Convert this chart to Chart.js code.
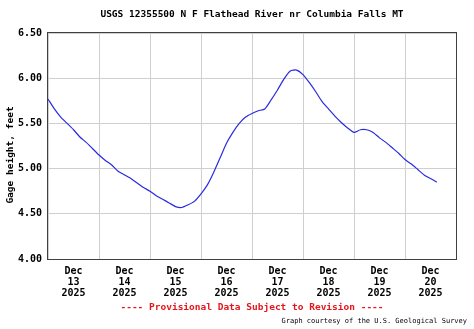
<!DOCTYPE html>
<html>
<head>
<meta charset="utf-8">
<title>USGS 12355500 N F Flathead River nr Columbia Falls MT</title>
<script src="https://cdn.jsdelivr.net/npm/chart.js@4/dist/chart.umd.min.js"></script>
<style>
  html, body { margin: 0; padding: 0; background: #fff; }
  canvas { display: block; }
</style>
</head>
<body>
<canvas id="gage" width="474" height="329"></canvas>
<script>
// Gage height readings, every 3 hours starting Dec 13 2025 00:00
const hoursSinceStart = [
  0, 3, 6, 9, 12, 15, 18, 21,
  24, 27, 30, 33, 36, 39, 42, 45,
  48, 51, 54, 57, 60, 63, 66, 69,
  72, 75, 78, 81, 84, 87, 90, 93,
  96, 99, 102, 105, 108, 111, 114, 117,
  120, 123, 126, 129, 132, 135, 138, 141,
  144, 147, 150, 153, 156, 159, 162, 165,
  168, 171, 174, 177, 180, 183
];
const gageHeight = [
  5.77, 5.66, 5.57, 5.50, 5.43, 5.35, 5.29, 5.22,
  5.15, 5.09, 5.04, 4.97, 4.93, 4.89, 4.84, 4.79,
  4.75, 4.70, 4.66, 4.62, 4.58, 4.57, 4.60, 4.64,
  4.72, 4.82, 4.96, 5.12, 5.28, 5.40, 5.50, 5.57,
  5.61, 5.64, 5.66, 5.76, 5.87, 5.99, 6.08, 6.09,
  6.04, 5.95, 5.85, 5.74, 5.66, 5.58, 5.51, 5.45,
  5.40, 5.43, 5.43, 5.40, 5.34, 5.29, 5.23, 5.17,
  5.10, 5.05, 4.99, 4.93, 4.89, 4.85
];
const dayLabels = ["13", "14", "15", "16", "17", "18", "19", "20"];
const yTicks = [4.0, 4.5, 5.0, 5.5, 6.0, 6.5];

const titleText = "USGS 12355500 N F Flathead River nr Columbia Falls MT";
const yAxisText = "Gage height, feet";
const noticeText = "---- Provisional Data Subject to Revision ----";
const creditText = "Graph courtesy of the U.S. Geological Survey";

const MONO = "'DejaVu Sans Mono', 'Liberation Mono', monospace";

// title, axis name, notices and the plot frame
const decorations = {
  id: "decorations",
  afterDraw(chart) {
    const { ctx, chartArea: a } = chart;
    const midX = (a.left + a.right) / 2;
    ctx.save();
    ctx.textAlign = "center";
    ctx.textBaseline = "middle";

    ctx.fillStyle = "#000";
    ctx.font = "bold 9.5px " + MONO;
    ctx.fillText(titleText, midX, 15);

    ctx.save();
    ctx.translate(11, 155);
    ctx.rotate(-Math.PI / 2);
    ctx.fillText(yAxisText, 0, 0);
    ctx.restore();

    ctx.fillStyle = "#e8141c";
    ctx.font = "bold 9.5px " + MONO;
    ctx.fillText(noticeText, midX, 308);

    ctx.fillStyle = "#000";
    ctx.font = "7px " + MONO;
    ctx.textAlign = "right";
    ctx.fillText(creditText, 467, 321);

    ctx.strokeStyle = "#404040";
    ctx.lineWidth = 1;
    ctx.strokeRect(a.left - 0.5, a.top - 0.5, a.right - a.left + 1, a.bottom - a.top + 1);
    ctx.restore();
  }
};

new Chart(document.getElementById("gage"), {
  type: "line",
  data: {
    datasets: [{
      data: hoursSinceStart.map((h, i) => ({ x: h, y: gageHeight[i] })),
      borderColor: "#2a2ae0",
      borderWidth: 1.2,
      pointRadius: 0,
      tension: 0.2,
      fill: false
    }]
  },
  options: {
    responsive: false,
    animation: false,
    events: [],
    layout: { padding: { top: 33, right: 18, left: 0, bottom: 0 } },
    plugins: {
      legend: { display: false },
      tooltip: { enabled: false }
    },
    scales: {
      x: {
        type: "linear",
        min: 0,
        max: 192,
        afterBuildTicks(scale) {
          const ticks = [];
          for (let v = 0; v <= 192; v += 12) ticks.push({ value: v });
          scale.ticks = ticks;
        },
        afterFit(scale) { scale.height = 70; },
        border: { display: false },
        grid: {
          drawTicks: false,
          color: (c) => (c.tick && c.tick.value % 24 === 0 ? "#cfcfcf" : "rgba(0,0,0,0)")
        },
        ticks: {
          autoSkip: false,
          maxRotation: 0,
          padding: 7,
          color: "#000",
          font: { family: MONO, size: 10, weight: "bold", lineHeight: 1.1 },
          callback: (v) => (v % 24 === 12 ? ["Dec", dayLabels[(v - 12) / 24], "2025"] : "")
        }
      },
      y: {
        min: 4,
        max: 6.5,
        afterBuildTicks(scale) {
          scale.ticks = yTicks.map((v) => ({ value: v }));
        },
        afterFit(scale) { scale.width = 48; },
        border: { display: false },
        grid: { drawTicks: false, color: "#cfcfcf" },
        ticks: {
          padding: 6,
          color: "#000",
          font: { family: MONO, size: 10, weight: "bold" },
          callback: (v) => Number(v).toFixed(2)
        }
      }
    }
  },
  plugins: [decorations]
});
</script>
</body>
</html>
